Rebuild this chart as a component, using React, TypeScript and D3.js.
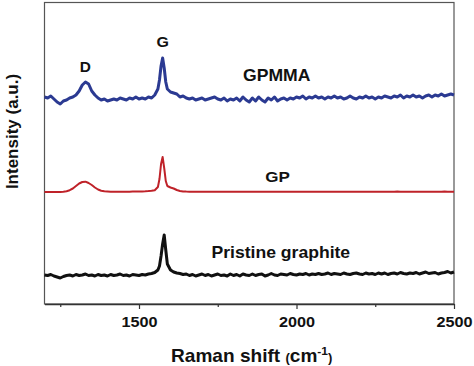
import React, { Component } from 'react'
import * as d3 from 'd3'

// Raman shift grid (cm-1), extra points around the G band
const ramanShift = [
  1200, 1210, 1220, 1230, 1240, 1250, 1260, 1270, 1280, 1290,
  1300, 1310, 1320, 1330, 1340, 1350, 1360, 1370, 1380, 1390,
  1400, 1410, 1420, 1430, 1440, 1450, 1460, 1470, 1480, 1490,
  1500, 1510, 1520, 1530, 1540, 1550, 1560, 1565, 1570, 1575,
  1580, 1585, 1590, 1600, 1610, 1620, 1630, 1640, 1650, 1660,
  1670, 1680, 1690, 1700, 1710, 1720, 1730, 1740, 1750, 1760,
  1770, 1780, 1790, 1800, 1810, 1820, 1830, 1840, 1850, 1860,
  1870, 1880, 1890, 1900, 1910, 1920, 1930, 1940, 1950, 1960,
  1970, 1980, 1990, 2000, 2010, 2020, 2030, 2040, 2050, 2060,
  2070, 2080, 2090, 2100, 2110, 2120, 2130, 2140, 2150, 2160,
  2170, 2180, 2190, 2200, 2210, 2220, 2230, 2240, 2250, 2260,
  2270, 2280, 2290, 2300, 2310, 2320, 2330, 2340, 2350, 2360,
  2370, 2380, 2390, 2400, 2410, 2420, 2430, 2440, 2450, 2460,
  2470, 2480, 2490, 2500
]

const gpmma = [
  207, 206, 208, 205, 202, 200, 203, 204, 206, 207,
  209, 213, 219, 222, 220, 213, 209, 206, 204, 205,
  203, 204, 205, 204, 206, 205, 204, 206, 205, 207,
  205, 206, 205, 207, 206, 209, 215, 224, 238, 246,
  236, 222, 215, 212, 211, 210, 207, 208, 206, 205,
  206, 204, 205, 206, 204, 205, 206, 207, 205, 204,
  206, 203, 205, 204, 206, 203, 207, 204, 202, 206,
  203, 207, 204, 202, 206, 204, 207, 203, 205, 206,
  204, 206, 205, 207, 206, 208, 205, 207, 206, 208,
  206, 207, 205, 207, 206, 208, 206, 207, 205, 206,
  208, 206, 205, 207, 206, 208, 206, 207, 205, 207,
  206, 208, 207, 206, 208, 207, 209, 206, 208, 207,
  209, 207, 208, 206, 208, 209, 207, 209, 208, 210,
  208, 209, 210, 209
]

const gp = [
  112, 112, 112, 112, 112, 112, 112.3, 112.8, 113.8, 115.5,
  118, 120.5, 122, 122.3, 121, 119, 116.5, 114.5, 113.3, 112.7,
  112.5, 112.3, 112.2, 112.2, 112.2, 112.2, 112.3, 112.3, 112.4, 112.5,
  112.5, 112.6, 112.7, 112.9, 113.2, 113.8, 117, 125, 140, 147,
  136, 123, 118, 116.5, 115.5, 114, 113, 112.6, 112.4, 112.3,
  112.2, 112.2, 112.2, 112.2, 112.2, 112.2, 112.2, 112.2, 112.2, 112.2,
  112.2, 112.2, 112.2, 112.2, 112.2, 112.2, 112.2, 112.2, 112.2, 112.2,
  112.2, 112.2, 112.2, 112.2, 112.2, 112.2, 112.2, 112.2, 112.2, 112.2,
  112.2, 112.2, 112.2, 112.2, 112.2, 112.2, 112.2, 112.2, 112.2, 112.2,
  112.2, 112.2, 112.2, 112.2, 112.2, 112.2, 112.2, 112.2, 112.2, 112.2,
  112.2, 112.2, 112.2, 112.2, 112.2, 112.2, 112.2, 112.2, 112.2, 112.2,
  112.2, 112.2, 112.2, 112.2, 112.2, 112.4, 112.2, 112.2, 112.2, 112.2,
  112.2, 112.2, 112.2, 112.2, 112.2, 112.2, 112.2, 112.2, 112.2, 112.2,
  112.4, 112.2, 112.2, 112.2
]

const pristine = [
  29, 28.5, 29.5, 28, 27, 26, 27.5, 28.5, 29, 28,
  29.5, 28.5, 29, 30, 28.5, 29, 28, 29.5, 28.5, 29,
  28, 29.5, 28.5, 29, 30, 28.5, 29, 28, 29.5, 29,
  28.5, 29.5, 29, 30, 30.5, 31.5, 34, 38, 48, 60,
  69, 54, 40, 34, 32, 31, 30.5, 29.5, 30, 28.5,
  29.5, 28, 29, 30, 28.5, 29.5, 28, 29, 30, 28.5,
  29, 28, 30, 28.5, 29.5, 28, 30, 29, 28.5, 30,
  28.5, 29.5, 30, 28, 29, 30.5, 29, 28.5, 30, 29.5,
  29, 30.5, 29.5, 29, 30, 29.5, 30.5, 29, 30, 29.5,
  30.5, 29.5, 30, 31, 29.5, 30.5, 30, 29.5, 31, 30,
  29.5, 30.5, 31, 30, 29.5, 31, 30, 30.5, 29.5, 31,
  30, 31, 29.5, 30.5, 31, 30, 31.5, 30.5, 30, 31,
  30.5, 31.5, 30, 31, 32, 30.5, 31, 31.5, 30, 31,
  31.5, 32.5, 31, 32
]

const majorTicks = [1500, 2000, 2500]
const minorTicks = [1250, 1750, 2250]

const FONT = '"Liberation Sans", Arial, sans-serif'

export default class App extends Component {
  container: SVGSVGElement | null = null
  margin = { top: 2.5, left: 44.5, right: 20, bottom: 62 }
  width = 474
  height = 366

  componentDidMount () {
    const svg = d3.select(this.container)
    svg.selectAll('*').remove()

    const x0 = this.margin.left
    const x1 = this.width - this.margin.right
    const y0 = this.margin.top
    const y1 = this.height - this.margin.bottom

    const xScale = d3.scaleLinear().domain([1200, 2500]).range([x0, x1])
    const yScale = d3.scaleLinear().domain([0, 300]).range([y1, y1 - 300])

    // frame
    svg.append('rect')
      .attr('x', x0).attr('y', y0)
      .attr('width', x1 - x0).attr('height', y1 - y0)
      .attr('fill', 'none')
      .attr('stroke', '#555')
      .attr('stroke-width', 1.2)

    const axis = svg.append('g')
      .attr('transform', `translate(0, ${y1})`)
      .call(d3.axisBottom(xScale).tickValues(majorTicks).tickSize(5).tickSizeOuter(0).tickFormat(d3.format('d')))
    axis.select('.domain').attr('stroke', '#333').attr('stroke-width', 1.4)
    axis.selectAll('line').attr('stroke', '#333').attr('stroke-width', 1.2)
    axis.selectAll('text')
      .attr('y', 0).attr('dy', null)
      .attr('transform', 'translate(0, 23) scale(1.08, 1)')
      .attr('font-family', FONT)
      .attr('font-size', 15)
      .attr('font-weight', 'bold')
      .attr('fill', '#111')

    const minor = svg.append('g')
      .attr('transform', `translate(0, ${y1})`)
      .call(d3.axisBottom(xScale).tickValues(minorTicks).tickSize(3).tickFormat(() => ''))
    minor.select('.domain').remove()
    minor.selectAll('line').attr('stroke', '#333').attr('stroke-width', 1.2)

    const line = d3.line<number>()
      .x((d, i) => xScale(ramanShift[i]))
      .y(d => yScale(d))

    const series = [
      { values: pristine, color: '#111111', width: 3 },
      { values: gp, color: '#bf2229', width: 2 },
      { values: gpmma, color: '#2b3a92', width: 3 }
    ]
    svg.append('g')
      .selectAll('path')
      .data(series)
      .enter()
      .append('path')
        .attr('d', d => line(d.values))
        .attr('fill', 'none')
        .attr('stroke', d => d.color)
        .attr('stroke-width', d => d.width)
        .attr('stroke-linejoin', 'round')

    const labels = [
      { text: 'D', x: 85.3, y: 71.7, size: 14 },
      { text: 'G', x: 162.8, y: 46.7, size: 14.5 },
      { text: 'GPMMA', x: 276.7, y: 81, size: 16 },
      { text: 'GP', x: 277.5, y: 182.3, size: 15.5 },
      { text: 'Pristine graphite', x: 280.8, y: 257.7, size: 16 }
    ]
    svg.append('g')
      .selectAll('text')
      .data(labels)
      .enter()
      .append('text')
        .attr('transform', d => `translate(${d.x}, ${d.y}) scale(1.1, 1)`)
        .attr('text-anchor', 'middle')
        .attr('font-family', FONT)
        .attr('font-weight', 'bold')
        .attr('font-size', d => d.size)
        .attr('fill', '#111')
        .text(d => d.text)

    // axis titles
    const xt = svg.append('text')
      .attr('transform', 'translate(251.7, 361.7) scale(1.09, 1)')
      .attr('text-anchor', 'middle')
      .attr('font-family', FONT)
      .attr('font-weight', 'bold')
      .attr('font-size', 17.5)
      .attr('fill', '#111')
    xt.append('tspan').text('Raman shift ')
    xt.append('tspan').attr('font-size', 12).text('(')
    xt.append('tspan').text('cm')
    xt.append('tspan').attr('font-size', 11).attr('dy', -7).text('-1')
    xt.append('tspan').attr('font-size', 12).attr('dy', 7).text(')')

    svg.append('text')
      .attr('transform', 'translate(17.5, 131.5) rotate(-90)')
      .attr('text-anchor', 'middle')
      .attr('font-family', FONT)
      .attr('font-weight', 'bold')
      .attr('font-size', 17)
      .attr('fill', '#111')
      .text('Intensity (a.u.)')
  }

  render () {
    return (
      <svg
        ref={ el => { this.container = el } }
        width={this.width}
        height={this.height}
        style={{ position: 'absolute', left: 0, top: 0, background: '#fff' }}>
      </svg>
    )
  }
}
